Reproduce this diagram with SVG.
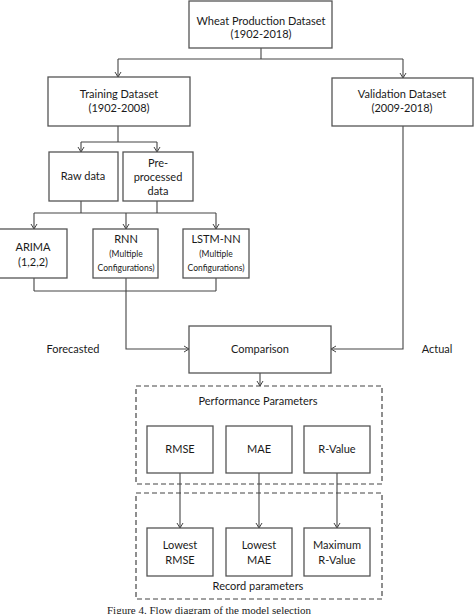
<svg xmlns="http://www.w3.org/2000/svg" width="474" height="614" viewBox="0 0 474 614">
<defs>
<marker id="arr" markerWidth="8" markerHeight="8" refX="6" refY="4" orient="auto" markerUnits="userSpaceOnUse">
<path d="M1,1 L6,4 L1,7" fill="none" stroke="#444" stroke-width="1"/>
</marker>
<style>
.box{fill:#fff;stroke:#555;stroke-width:1.3}
.dash{fill:none;stroke:#444;stroke-width:1.2;stroke-dasharray:5,3}
.ln{fill:none;stroke:#444;stroke-width:1.1}
text{font-family:Lato,"Open Sans","Liberation Sans",sans-serif;font-size:11px;fill:#1a1a1a;text-anchor:middle}
.sm{font-size:8.5px}
.cap{font-family:"Liberation Serif",serif;font-size:11px;text-anchor:start}
</style>
</defs>
<rect width="474" height="614" fill="#fff"/>
<g id="connectors">
<path class="ln" d="M261,48 V59 M118,59 H403"/>
<path class="ln" d="M118,59 V77" marker-end="url(#arr)"/>
<path class="ln" d="M403,59 V78" marker-end="url(#arr)"/>
<path class="ln" d="M118,126 V142 M81,142 H157"/>
<path class="ln" d="M81,142 V152" marker-end="url(#arr)"/>
<path class="ln" d="M157,142 V152" marker-end="url(#arr)"/>
<path class="ln" d="M81,201 V213 M157,201 V213 M34,213 H216"/>
<path class="ln" d="M34,213 V229" marker-end="url(#arr)"/>
<path class="ln" d="M126,213 V229" marker-end="url(#arr)"/>
<path class="ln" d="M216,213 V229" marker-end="url(#arr)"/>
<path class="ln" d="M34,278 V291 M216,278 V291 M34,291 H216"/>
<path class="ln" d="M126,278 V349 H189" marker-end="url(#arr)"/>
<path class="ln" d="M403,126 V349 H331" marker-end="url(#arr)"/>
<path class="ln" d="M260,373 V386" marker-end="url(#arr)"/>
<path class="ln" d="M180,473 V528" marker-end="url(#arr)"/>
<path class="ln" d="M259,473 V528" marker-end="url(#arr)"/>
<path class="ln" d="M337,473 V528" marker-end="url(#arr)"/>
</g>
<g id="wheat"><rect class="box" x="189" y="1" width="143" height="47"/><text x="261" y="25">Wheat Production Dataset</text><text x="261" y="38">(1902-2018)</text></g>
<g id="training"><rect class="box" x="48" y="77" width="142" height="49"/><text x="119" y="98">Training Dataset</text><text x="119" y="112">(1902-2008)</text></g>
<g id="validation"><rect class="box" x="332" y="78" width="141" height="48"/><text x="402" y="98">Validation Dataset</text><text x="402" y="112">(2009-2018)</text></g>
<g id="raw"><rect class="box" x="49" y="152" width="69" height="49"/><text x="83" y="180">Raw data</text></g>
<g id="pre"><rect class="box" x="123" y="152" width="70" height="49"/><text x="158" y="167">Pre-</text><text x="158" y="181">processed</text><text x="158" y="195">data</text></g>
<g id="arima"><rect class="box" x="-1" y="229" width="68" height="49"/><text x="33" y="251">ARIMA</text><text x="33" y="266">(1,2,2)</text></g>
<g id="rnn"><rect class="box" x="93" y="229" width="65" height="49"/><text x="126" y="243">RNN</text><text class="sm" x="126" y="257">(Multiple</text><text class="sm" x="126" y="271">Configurations)</text></g>
<g id="lstm"><rect class="box" x="183" y="229" width="66" height="49"/><text x="216" y="243">LSTM-NN</text><text class="sm" x="216" y="257">(Multiple</text><text class="sm" x="216" y="271">Configurations)</text></g>
<g id="comparison"><rect class="box" x="189" y="326" width="142" height="47"/><text x="260" y="353">Comparison</text></g>
<g id="forecasted"><text x="73" y="353">Forecasted</text></g>
<g id="actual"><text x="437" y="353">Actual</text></g>
<g id="performance"><rect class="dash" x="136" y="386" width="246" height="98"/><text x="258" y="405">Performance Parameters</text></g>
<g id="rmse"><rect class="box" x="147" y="426" width="66" height="47"/><text x="180" y="453">RMSE</text></g>
<g id="mae"><rect class="box" x="226" y="426" width="66" height="47"/><text x="259" y="453">MAE</text></g>
<g id="rvalue"><rect class="box" x="304" y="426" width="66" height="47"/><text x="337" y="453">R-Value</text></g>
<g id="record"><rect class="dash" x="136" y="493" width="246" height="106"/><text x="258" y="590">Record parameters</text></g>
<g id="lrmse"><rect class="box" x="147" y="528" width="66" height="48"/><text x="180" y="549">Lowest</text><text x="180" y="564">RMSE</text></g>
<g id="lmae"><rect class="box" x="226" y="528" width="66" height="48"/><text x="259" y="549">Lowest</text><text x="259" y="564">MAE</text></g>
<g id="mrv"><rect class="box" x="304" y="528" width="66" height="48"/><text x="337" y="549">Maximum</text><text x="337" y="564">R-Value</text></g>
<text class="cap" x="107" y="614">Figure 4. Flow diagram of the model selection</text>
</svg>
